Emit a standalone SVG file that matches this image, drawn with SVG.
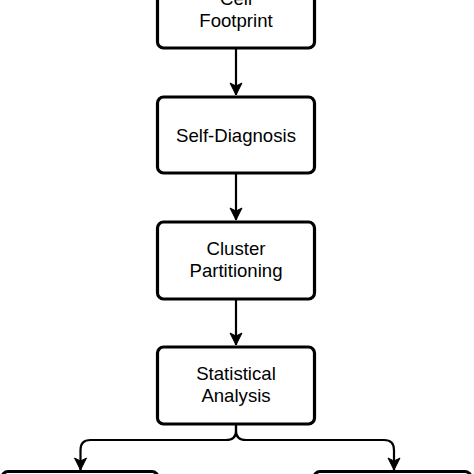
<svg xmlns="http://www.w3.org/2000/svg" width="474" height="474" viewBox="0 0 474 474">
<style>
.box{fill:#ffffff;stroke:#000000;stroke-width:3.2}
.lbl{font-family:"Liberation Sans",Arial,Helvetica,sans-serif;font-size:18.6px;fill:#000000;text-anchor:middle}
.edge{fill:none;stroke:#000000;stroke-width:2.2}
</style>
<defs>
<marker id="arr" markerUnits="userSpaceOnUse" markerWidth="14" markerHeight="14" viewBox="0 0 14 14" refX="13" refY="7" orient="auto">
<path d="M1,1 L13,7 L1,13 L4,7 Z" fill="#000000" stroke="#000000" stroke-width="1" stroke-linejoin="miter"/>
</marker>
</defs>
<rect x="0" y="0" width="474" height="474" fill="#ffffff"/>
<g id="edges">
<path class="edge" d="M236,48 L236,95" marker-end="url(#arr)"/>
<path class="edge" d="M236,173 L236,220" marker-end="url(#arr)"/>
<path class="edge" d="M236,299 L236,345" marker-end="url(#arr)"/>
<path class="edge" d="M236,424 L236,431 Q236,440 226,440 L90.5,440 Q80.5,440 80.5,450 L80.5,470" marker-end="url(#arr)"/>
<path class="edge" d="M236,424 L236,431 Q236,440 246,440 L384,440 Q394,440 394,450 L394,470" marker-end="url(#arr)"/>
</g>
<g id="cell-footprint">
<rect class="box" x="157.5" y="-28" width="157" height="76" rx="6"/>
<text class="lbl" x="236" y="4.5">Cell</text>
<text class="lbl" x="236" y="26.5">Footprint</text>
</g>
<g id="self-diagnosis">
<rect class="box" x="157.5" y="97" width="157" height="76" rx="6"/>
<text class="lbl" x="236" y="141.5">Self-Diagnosis</text>
</g>
<g id="cluster-partitioning">
<rect class="box" x="157.5" y="222" width="157" height="77" rx="6"/>
<text class="lbl" x="236" y="255">Cluster</text>
<text class="lbl" x="236" y="277">Partitioning</text>
</g>
<g id="statistical-analysis">
<rect class="box" x="157.5" y="347" width="157" height="77" rx="6"/>
<text class="lbl" x="236" y="380">Statistical</text>
<text class="lbl" x="236" y="402">Analysis</text>
</g>
<g id="left-output">
<rect class="box" x="2" y="471.5" width="156" height="76" rx="6"/>
</g>
<g id="right-output">
<rect class="box" x="314" y="471.5" width="157" height="76" rx="6"/>
</g>
</svg>
